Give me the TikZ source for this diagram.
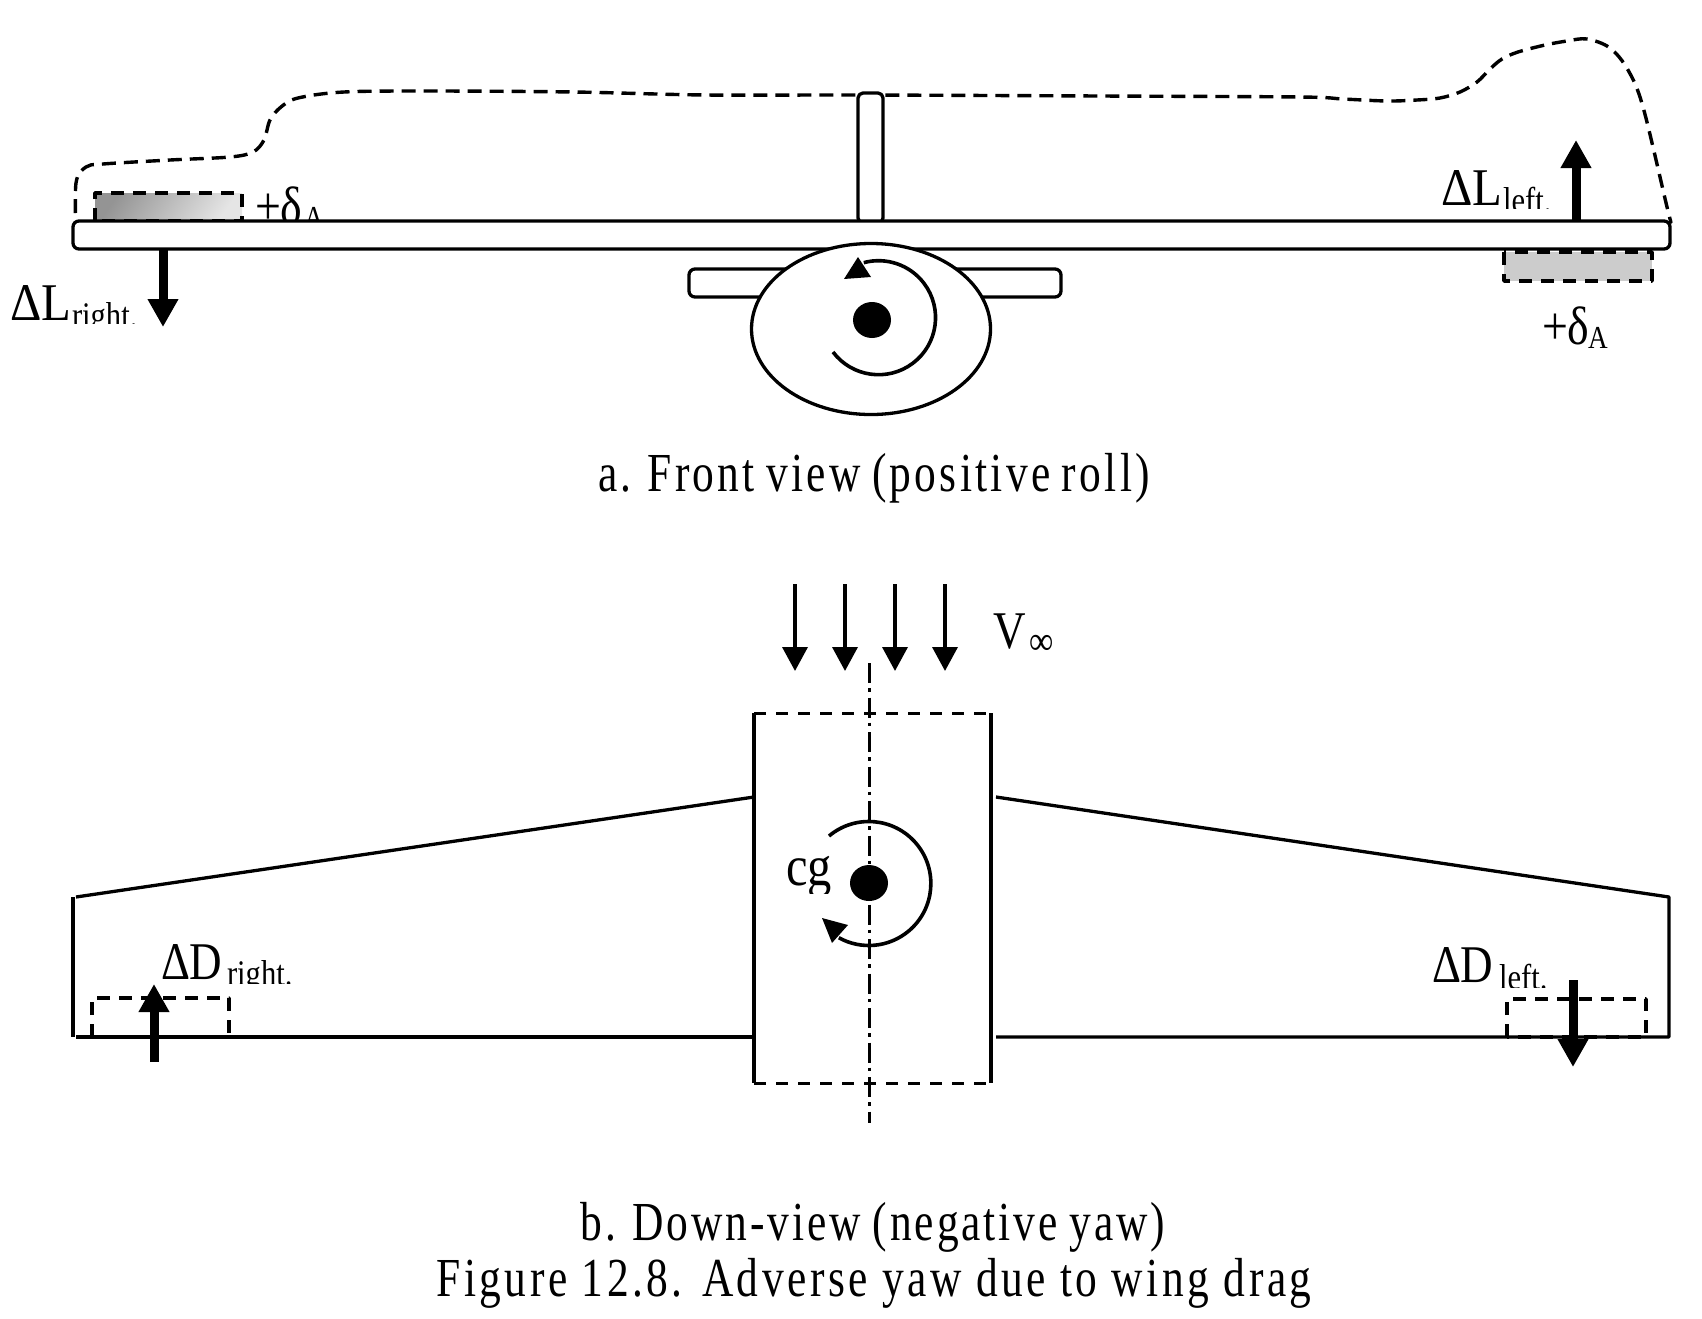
\documentclass[tikz,border=0pt]{standalone}
\usepackage{fontspec}
\setmainfont{Liberation Serif}[FakeStretch=0.85]
\newfontfamily\lfont{Liberation Serif}[FakeStretch=0.92]
\newfontfamily\capafont{Liberation Serif}[FakeStretch=0.79,LetterSpace=6,WordSpace=0.8]
\newfontfamily\capbfont{Liberation Serif}[FakeStretch=0.79,LetterSpace=5.3,WordSpace=0.85]
\newfontfamily\capcfont{Liberation Serif}[FakeStretch=0.79,LetterSpace=6.4,WordSpace=1.0]
\usetikzlibrary{arrows.meta,shapes.geometric}
\newcommand{\fsz}[1]{\fontsize{#1}{#1}\selectfont}
\begin{document}
\begin{tikzpicture}[x=1pt,y=-1pt,line join=round,
  every node/.style={inner sep=0pt,outer sep=0pt},
  ln/.style={line width=3.3pt},
  dsh/.style={line width=3.4pt,dash pattern=on 14pt off 8pt},
  flap/.style={line width=3.6pt,dash pattern=on 13pt off 9pt},
  bigarrow/.style={line width=9pt,-{Triangle[length=28pt,width=29pt]}},
  windarrow/.style={line width=3.6pt,-{Triangle[length=24pt,width=25pt]}},
  lbl/.style={anchor=base west,font=\fsz{53}},
  sub/.style={anchor=base west,font=\fsz{36}},
  dlt/.style={anchor=base west,font=\fsz{54}},
  capt/.style={anchor=base},
  dot/.style={ellipse,fill=black,minimum width=38pt,minimum height=36pt}]
\useasboundingbox (0,0) rectangle (1702,1318);
% Front view: flaps and text behind the wing
\shade[top color=black!42,bottom color=black!10,shading angle=55] (95,193) rectangle (242,221);
\draw[flap] (95,221) rectangle (242,193);
\fill[black!20] (1504,252) rectangle (1652,281);
\draw[flap] (1504,252) rectangle (1652,281);
\node[dlt] (dal) at (255,224) {+δ};
\node[sub,font=\fsz{32}] (dala) at (304,228) {A};
% Fuselage outline
\draw[dsh] plot[smooth,tension=0.55] coordinates {(76,235) (76,183) (86,167) (103,164) (170,160) (230,157) (253,152) (264,140) (270,120) (281,107) (298,98) (344,92) (430,91) (574,92) (706,95) (861,95) (1100,96) (1300,97) (1343,99) (1387,101) (1417,100) (1440,98) (1460,92) (1477,82) (1490,69) (1502,59) (1518,52) (1545,45) (1567,41) (1587,39) (1610,48) (1628,70) (1643,107) (1667,207) (1671,222)};
% Wing and fin
\draw[ln,fill=white,rounded corners=5pt] (858,223) -- (858,93) -- (883,93) -- (883,223) -- cycle;
\node[draw,ln,fill=white,rounded corners=6pt,minimum width=1597pt,minimum height=28pt,anchor=north west] (wing) at (73,221) {};
% Tail and body
\draw[ln,fill=white,rounded corners=6pt] (689,269) rectangle (1061,297);
\node[draw,ln,fill=white,ellipse,minimum width=239pt,minimum height=171pt] (body) at (871,329) {};
\node[dot] (cg1) at (872,320) {};
\coordinate (r1s) at (833,352);
\draw[line width=3.6pt] (r1s) arc[start angle=217,end angle=465,radius=57pt];
\fill (858,257) -- (844,279) -- (871,277) -- cycle;
% Lift arrows
\coordinate (lr0) at (163,249); \coordinate (lr1) at (163,327);
\draw[bigarrow] (lr0) -- (lr1);
\coordinate (ll0) at (1576,221); \coordinate (ll1) at (1576,140);
\draw[bigarrow] (ll0) -- (ll1);
% Lift labels
\node[lbl,font=\lfont\fsz{53}] (lrl) at (10,320) {ΔL};
\begin{scope}\clip (60,280) rectangle (150,323);
\node[sub] (lrs) at (72,327) {right.};
\end{scope}
\node[lbl,font=\lfont\fsz{53}] (lll) at (1441,205) {ΔL};
\begin{scope}\clip (1490,160) rectangle (1560,208);
\node[sub] (lls) at (1503,212) {left.};
\end{scope}
\node[dlt] (dar) at (1542,344) {+δ};
\node[sub,font=\fsz{32}] (dara) at (1588,348) {A};
% Caption a
\node[capt,font=\capafont\fsz{55}] (capa) at (874,491) {a. Front view (positive roll)};
% Wind
\foreach \n/\x in {a/795,b/845,c/895,d/945}{
  \coordinate (w\n0) at (\x,584); \coordinate (w\n1) at (\x,671);
  \draw[windarrow] (w\n0) -- (w\n1);
}
\node[lbl] (vinf) at (993,648) {V};
\node[sub,font=\fsz{40}] (vinfs) at (1029,654) {∞};
% Down view body
\coordinate (cl0) at (869,663); \coordinate (cl1) at (869,1123);
\draw[line width=3pt,dash pattern=on 20pt off 5pt on 3.5pt off 6pt] (cl0) -- (cl1);
\coordinate (ftl) at (754,713); \coordinate (ftr) at (991,713);
\coordinate (fbl) at (754,1083); \coordinate (fbr) at (991,1083);
\draw[ln] (ftl) -- (fbl); \draw[ln] (ftr) -- (fbr);
\draw[line width=3pt,dash pattern=on 12pt off 10pt] (ftl) -- (ftr);
\draw[line width=3pt,dash pattern=on 12pt off 10pt] (fbl) -- (fbr);
% Wings
\coordinate (wlr) at (754,797); \coordinate (wlt) at (76,897);
\coordinate (wltip) at (73,897); \coordinate (wlb) at (73,1037);
\coordinate (wlbs) at (76,1037); \coordinate (wlre) at (756,1037);
\draw[ln] (wlr) -- (wlt);
\draw[line width=3.6pt] (wltip) -- (wlb);
\draw[ln] (wlbs) -- (wlre);
\coordinate (wrr) at (996,797); \coordinate (wrt) at (1669,897);
\coordinate (wrb) at (1669,1037); \coordinate (wrre) at (996,1037);
\draw[ln] (wrr) -- (wrt) -- (wrb) -- (wrre);
% Ailerons
\draw[flap] (92,1037) -- (92,998) -- (229,998) -- (229,1037) -- cycle;
\draw[flap] (1507,1037) -- (1507,999) -- (1646,999) -- (1646,1037) -- cycle;
% Yaw
\node[dot] (cg2) at (869,883) {};
\coordinate (y0) at (829,836);
\draw[line width=3.6pt] (y0) arc[start angle=130,end angle=-119,radius=62pt];
\fill (822,918) -- (832,943) -- (848,925) -- cycle;
\begin{scope}\clip (780,840) rectangle (840,893);
\node[lbl,font=\fsz{57}] (cg) at (786,885) {cg};
\end{scope}
% Drag
\coordinate (dr0) at (154,1062); \coordinate (dr1) at (154,984);
\draw[bigarrow] (dr0) -- (dr1);
\coordinate (dl0) at (1573,980); \coordinate (dl1) at (1573,1067);
\draw[bigarrow] (dl0) -- (dl1);
\node[lbl] (drl) at (161,979) {ΔD};
\begin{scope}\clip (222,940) rectangle (300,983);
\node[sub] (drs) at (227,985) {right.};
\end{scope}
\node[lbl] (dll) at (1432,982) {ΔD};
\begin{scope}\clip (1495,940) rectangle (1550,987);
\node[sub] (dls) at (1499,989) {left.};
\end{scope}
% Captions
\node[capt,font=\capbfont\fsz{55}] (capb) at (873,1240) {b. Down-view (negative yaw)};
\node[capt,font=\capcfont\fsz{55}] (capc) at (874,1296) {Figure 12.8. Adverse yaw due to wing drag};
\end{tikzpicture}
\end{document}
